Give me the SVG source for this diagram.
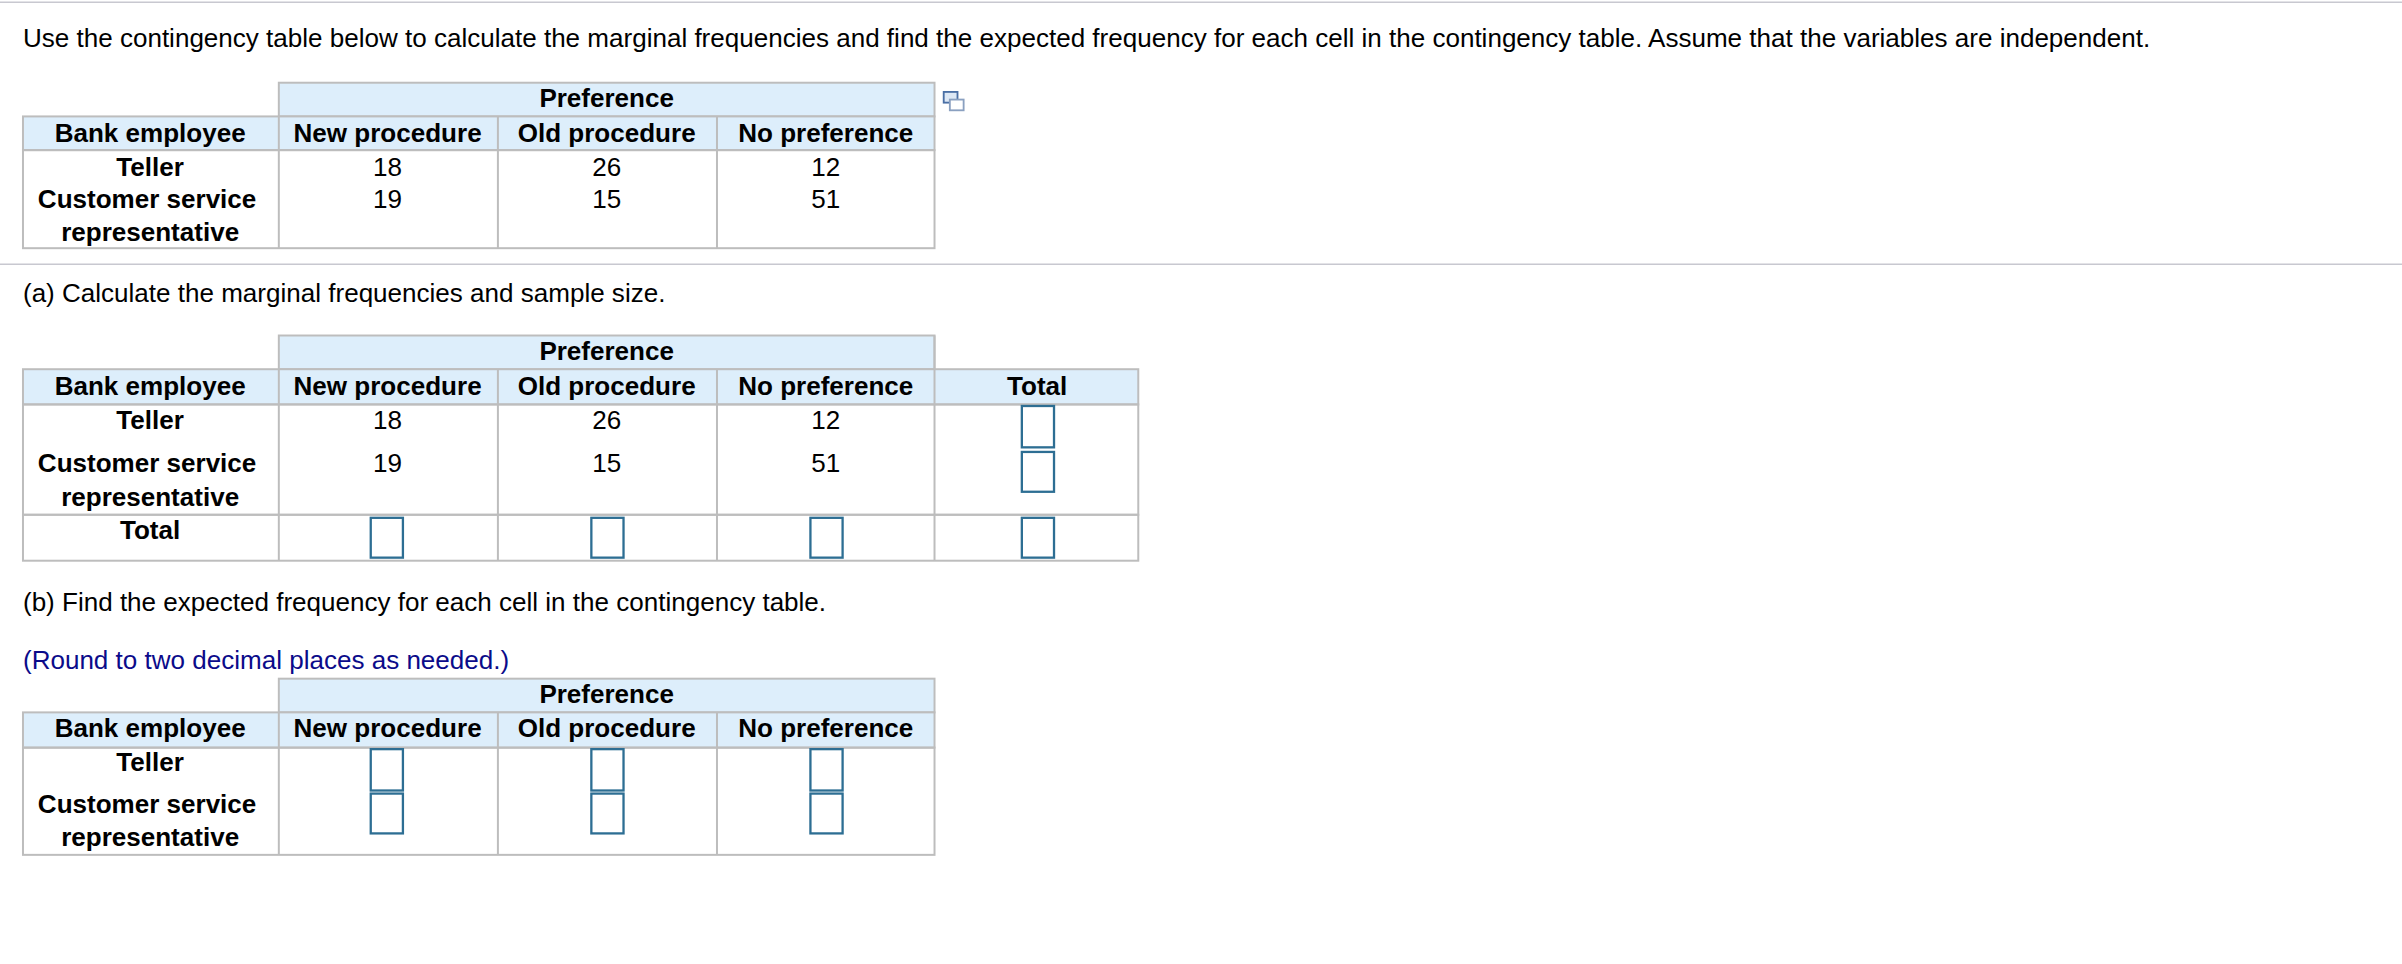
<svg xmlns="http://www.w3.org/2000/svg" width="2402" height="964" viewBox="0 0 2402 964">
<style>
.t{font-family:"Liberation Sans",Arial,sans-serif;font-size:17px;fill:#000}
.b{font-weight:bold;text-anchor:middle}
.c{text-anchor:middle}
.h{fill:#ddeefb;stroke:#bdbdbd;stroke-width:1.3}
.g{fill:none;stroke:#bdbdbd;stroke-width:1.3}
.bx{fill:#fff;stroke:#2d6e93;stroke-width:1.5}
.ln{stroke:#c8c8d0;stroke-width:1}
</style>
<rect width="2402" height="964" fill="#fff"/>
<g transform="scale(1.532)">
<line class="ln" x1="0" y1="1.5" x2="1568" y2="1.5"/>
<text class="t" x="15" y="31">Use the contingency table below to calculate the marginal frequencies and find the expected frequency for each cell in the contingency table. Assume that the variables are independent.</text>
<g id="table1">
<rect class="h" x="182" y="54" width="428" height="22"/>
<rect class="h" x="15" y="76" width="595" height="22"/>
<rect class="g" x="15" y="98" width="595" height="64"/>
<path class="g" d="M182 76V162M325 76V162M468 76V162"/>
<text class="t b" x="396" y="70">Preference</text>
<text class="t b" x="98" y="93">Bank employee</text>
<text class="t b" x="253" y="93">New procedure</text>
<text class="t b" x="396" y="93">Old procedure</text>
<text class="t b" x="539" y="93">No preference</text>
<text class="t b" x="98" y="115">Teller</text>
<text class="t b" x="96" y="136">Customer service</text>
<text class="t b" x="98" y="157">representative</text>
<text class="t c" x="253" y="115">18</text><text class="t c" x="396" y="115">26</text><text class="t c" x="539" y="115">12</text>
<text class="t c" x="253" y="136">19</text><text class="t c" x="396" y="136">15</text><text class="t c" x="539" y="136">51</text>
</g>
<g id="icon" fill="none" stroke="#4a6fa5" stroke-width="1.2">
<rect x="616" y="60" width="9" height="7" fill="#dde8f5"/>
<rect x="620" y="65" width="9" height="7" fill="#fff" stroke="#8aa0c0"/>
</g>
<line class="ln" x1="0" y1="172.5" x2="1568" y2="172.5"/>
<text class="t" x="15" y="197">(a) Calculate the marginal frequencies and sample size.</text>
<g id="table2">
<rect class="h" x="182" y="219" width="428" height="22"/>
<rect class="h" x="15" y="241" width="728" height="23"/>
<rect class="g" x="15" y="264" width="728" height="72"/>
<rect class="g" x="15" y="336" width="728" height="30"/>
<path class="g" d="M182 241V366M325 241V366M468 241V366M610 219V366"/>
<text class="t b" x="396" y="235">Preference</text>
<text class="t b" x="98" y="258">Bank employee</text>
<text class="t b" x="253" y="258">New procedure</text>
<text class="t b" x="396" y="258">Old procedure</text>
<text class="t b" x="539" y="258">No preference</text>
<text class="t b" x="677" y="258">Total</text>
<text class="t b" x="98" y="280">Teller</text>
<text class="t b" x="96" y="308">Customer service</text>
<text class="t b" x="98" y="330">representative</text>
<text class="t b" x="98" y="352">Total</text>
<text class="t c" x="253" y="280">18</text><text class="t c" x="396" y="280">26</text><text class="t c" x="539" y="280">12</text>
<text class="t c" x="253" y="308">19</text><text class="t c" x="396" y="308">15</text><text class="t c" x="539" y="308">51</text>
<rect class="bx" x="667" y="265" width="21" height="27"/>
<rect class="bx" x="667" y="295" width="21" height="26"/>
<rect class="bx" x="242" y="338" width="21" height="26"/>
<rect class="bx" x="386" y="338" width="21" height="26"/>
<rect class="bx" x="529" y="338" width="21" height="26"/>
<rect class="bx" x="667" y="338" width="21" height="26"/>
</g>
<text class="t" x="15" y="399">(b) Find the expected frequency for each cell in the contingency table.</text>
<text class="t" x="15" y="437" style="fill:#0b0b8a">(Round to two decimal places as needed.)</text>
<g id="table3">
<rect class="h" x="182" y="443" width="428" height="22"/>
<rect class="h" x="15" y="465" width="595" height="23"/>
<rect class="g" x="15" y="488" width="595" height="70"/>
<path class="g" d="M182 465V558M325 465V558M468 465V558"/>
<text class="t b" x="396" y="459">Preference</text>
<text class="t b" x="98" y="481">Bank employee</text>
<text class="t b" x="253" y="481">New procedure</text>
<text class="t b" x="396" y="481">Old procedure</text>
<text class="t b" x="539" y="481">No preference</text>
<text class="t b" x="98" y="503">Teller</text>
<text class="t b" x="96" y="531">Customer service</text>
<text class="t b" x="98" y="552">representative</text>
<rect class="bx" x="242" y="489" width="21" height="27"/><rect class="bx" x="386" y="489" width="21" height="27"/><rect class="bx" x="529" y="489" width="21" height="27"/>
<rect class="bx" x="242" y="518" width="21" height="26"/><rect class="bx" x="386" y="518" width="21" height="26"/><rect class="bx" x="529" y="518" width="21" height="26"/>
</g>
</g>
</svg>
